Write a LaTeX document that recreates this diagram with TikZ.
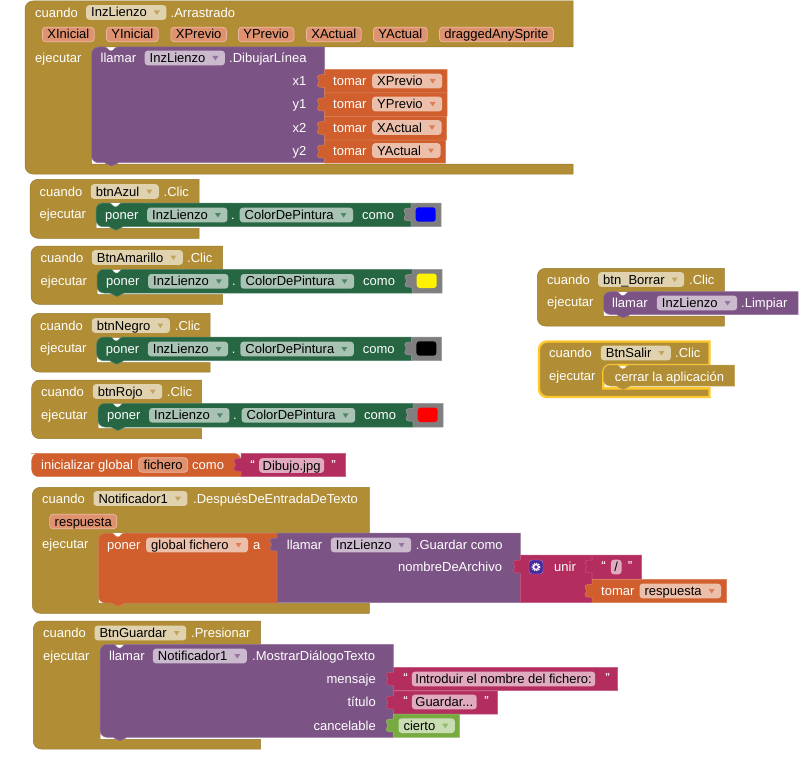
\documentclass[tikz,border=0pt]{standalone}
\usepackage{fontspec}
\setmainfont{Liberation Sans}
\definecolor{ctrl}{HTML}{B18E35}
\definecolor{meth}{HTML}{7C5385}
\definecolor{setr}{HTML}{266643}
\definecolor{vari}{HTML}{D05F2D}
\definecolor{txtb}{HTML}{B32D5E}
\definecolor{logi}{HTML}{77AB41}
\definecolor{gris}{HTML}{7F7F7F}
\definecolor{salir}{HTML}{FFC72E}
\definecolor{mutr}{HTML}{4B2A9E}
\tikzset{
  every node/.style={font=\fontsize{13}{15}\selectfont, text height=11pt, text depth=2pt},
  lbl/.style={anchor=west, inner sep=0pt, text=white},
  rlbl/.style={anchor=east, inner sep=0pt, text=white},
  dd/.style={anchor=west, fill=#1!40!white, text=black, rounded corners=3pt, inner xsep=5pt, inner ysep=.8pt,
    execute at end node={\hspace{14.5pt}},
    path picture={\fill[#1!80!white, sharp corners] ([xshift=-12.5pt,yshift=2pt]path picture bounding box.east) -- ++(6pt,0) -- ++(-3pt,-4.5pt) -- cycle;}},
  pill/.style={anchor=west, fill=vari!68!white, draw=vari!45!white, line width=.8pt, text=black, rounded corners=3.5pt, inner xsep=5pt, inner ysep=.8pt},
  txtf/.style={anchor=west, fill=txtb!40!white, text=black, rounded corners=3pt, inner xsep=3.5pt, inner ysep=.8pt},
  qt/.style={anchor=west, inner sep=0pt, text=white, font=\fontsize{10}{10}\selectfont\bfseries, text height=5pt, text depth=0pt},
  swatch/.style={inner sep=0pt, rounded corners=3pt, minimum width=20pt, minimum height=14.4pt}
}
% x0 y0 x1 yhead xin ybar ybottom
\newcommand{\evtblk}[8][]{
  \path[fill=ctrl, draw=ctrl!85!black, line width=.5pt, #1] (#4,#8) [rounded corners=8pt] -- (#2,#8) -- (#2,#3)
    [sharp corners] -- (#4,#3) -- (#4,#5) -- (#6+14,#5) [rounded corners=7pt] -- (#6,#5) [sharp corners] -- (#6,#7) -- (#4,#7) -- cycle;
}
% colour x0 y0 x1 y1
\newcommand{\stmtblk}[5]{
  \path[fill=#1, draw=#1!80!white, line width=.5pt] (#2+13,#3) .. controls (#2+16,#3) and (#2+16.5,#3+4) .. (#2+19.5,#3+4) .. controls (#2+22.5,#3+4) and (#2+23,#3) .. (#2+26,#3) -- (#4,#3) -- (#4,#5)
    -- (#2+27,#5) .. controls (#2+24,#5) and (#2+23.5,#5+3.5) .. (#2+20,#5+3.5) .. controls (#2+16.5,#5+3.5) and (#2+16,#5) .. (#2+13,#5) -- (#2+8,#5) [rounded corners=7pt] -- (#2,#5) -- (#2,#3) -- (#2+13,#3);
}
% colour x0 y0 x1 y1
\newcommand{\valblk}[5]{
  \path[fill=#1, draw=#1!80!white, line width=.5pt] (#2,#3) -- (#4,#3) -- (#4,#5) -- (#2,#5) -- (#2,#3+18)
    .. controls (#2-3,#3+18) and (#2-7,#3+18) .. (#2-7,#3+15.5) -- (#2-5.5,#3+11.5) -- (#2-7,#3+7.5) .. controls (#2-7,#3+5) and (#2-3,#3+5) .. (#2,#3+5) -- cycle;
}
% name xin ytop colour
\newcommand{\colorrow}[4]{
  \stmtblk{setr}{#2}{#3}{#2+315}{#3+23.7}
  \valblk{gris}{#2+315}{#3}{#2+345}{#3+23.7}
  \node[lbl] (#1poner) at (#2+9,#3+12) {poner};
  \node[dd=setr] (#1lienzo) at (#2+51,#3+12) {InzLienzo};
  \node[lbl] (#1punto) at (#2+135,#3+12) {.};
  \node[dd=setr] (#1prop) at (#2+143.5,#3+12) {ColorDePintura};
  \node[lbl] (#1como) at (#2+266,#3+12) {como};
  \node[swatch, fill=#4] (#1color) at (#2+329.7,#3+11.5) {};
}
\begin{document}
\begin{tikzpicture}[x=1pt, y=-1pt]
\useasboundingbox (0,0) rectangle (805,757);
% Arrastrado
\evtblk{25}{1}{573}{47}{91.5}{164}{174}
\node[lbl] (cuandoA) at (35,13) {cuando};
\node[dd=ctrl] (lienzoA) at (86,12.5) {InzLienzo};
\node[lbl] (arrastrado) at (170.5,13) {.Arrastrado};
\node[pill] (xini) at (42,34.5) {XInicial};
\node[pill] (yini) at (106,34.5) {YInicial};
\node[pill] (xprev) at (170.5,34.5) {XPrevio};
\node[pill] (yprev) at (238,34.5) {YPrevio};
\node[pill] (xact) at (306,34.5) {XActual};
\node[pill] (yact) at (373,34.5) {YActual};
\node[pill] (dragged) at (439,34.5) {draggedAnySprite};
\node[lbl] (ejecA) at (35,58) {ejecutar};
\stmtblk{meth}{91.5}{47}{324.5}{162.7}
\node[lbl] (llamarA) at (100.5,58) {llamar};
\node[dd=meth] (lienzoB) at (144.5,58) {InzLienzo};
\node[lbl] (dibujar) at (229,58) {.DibujarLínea};
\node[rlbl] (x1) at (306.5,81) {x1};
\node[rlbl] (y1) at (306.5,104) {y1};
\node[rlbl] (x2) at (306.5,127.5) {x2};
\node[rlbl] (y2) at (306.5,150.5) {y2};
\valblk{vari}{324.5}{69.5}{447}{93}
\node[lbl] (tomarA) at (333,81) {tomar};
\node[dd=vari] (getxp) at (372,81) {XPrevio};
\valblk{vari}{324.5}{93}{447}{116.5}
\node[lbl] (tomarB) at (333,104) {tomar};
\node[dd=vari] (getyp) at (372,104) {YPrevio};
\valblk{vari}{324.5}{116.5}{446.5}{140}
\node[lbl] (tomarC) at (333,127.5) {tomar};
\node[dd=vari] (getxa) at (372,127.5) {XActual};
\valblk{vari}{324.5}{140}{445.5}{163}
\node[lbl] (tomarD) at (333,150.5) {tomar};
\node[dd=vari] (getya) at (372,150.5) {YActual};
% botones de color
\evtblk{30}{179.3}{199}{202.7}{96}{228.3}{238.3}
\node[lbl] (cuandoB) at (39.5,191.5) {cuando};
\node[dd=ctrl] (btnazul) at (90.7,191.5) {btnAzul};
\node[lbl] (clicB) at (163.5,191.5) {.Clic};
\node[lbl] (ejecB) at (39.5,214) {ejecutar};
\colorrow{azul}{96}{203}{blue}
\evtblk{31}{246}{222.7}{269.3}{97}{294.7}{304.3}
\node[lbl] (cuandoC) at (40.5,257.5) {cuando};
\node[dd=ctrl] (btnamar) at (91.7,257.5) {BtnAmarillo};
\node[lbl] (clicC) at (187,257.5) {.Clic};
\node[lbl] (ejecC) at (40.5,280.5) {ejecutar};
\colorrow{amar}{97}{269.3}{yellow}
\evtblk{31}{313.3}{210}{337.3}{96.7}{362.5}{372}
\node[lbl] (cuandoD) at (40,325.5) {cuando};
\node[dd=ctrl] (btnnegro) at (91.7,325.5) {btnNegro};
\node[lbl] (clicD) at (174.7,325.5) {.Clic};
\node[lbl] (ejecD) at (40,347.5) {ejecutar};
\colorrow{negro}{96.7}{337}{black}
\evtblk{31.7}{380}{201.7}{403.3}{98}{428.5}{438.7}
\node[lbl] (cuandoE) at (41,391.5) {cuando};
\node[dd=ctrl] (btnrojo) at (92.7,391.5) {btnRojo};
\node[lbl] (clicE) at (166.7,391.5) {.Clic};
\node[lbl] (ejecE) at (41,414.5) {ejecutar};
\colorrow{rojo}{98}{403.3}{red}
% Borrar
\evtblk{537.3}{268.3}{724.3}{291.7}{603.3}{316}{326}
\node[lbl] (cuandoF) at (547,279.5) {cuando};
\node[dd=ctrl] (btnborrar) at (598,279.5) {btn\_Borrar};
\node[lbl] (clicF) at (689,279.5) {.Clic};
\node[lbl] (ejecF) at (547,302) {ejecutar};
\stmtblk{meth}{603.3}{291.7}{798}{314.5}
\node[lbl] (llamarB) at (612,303) {llamar};
\node[dd=meth] (lienzoC) at (656.7,303) {InzLienzo};
\node[lbl] (limpiar) at (741,303) {.Limpiar};
% Salir
\evtblk[draw=salir, line width=2.4pt]{539}{341.5}{709.5}{365}{603.3}{388.3}{397}
\node[lbl] (cuandoG) at (549,353) {cuando};
\node[dd=ctrl] (btnsalir) at (600.7,353) {BtnSalir};
\node[lbl] (clicG) at (675,353) {.Clic};
\node[lbl] (ejecG) at (549,376) {ejecutar};
\stmtblk{ctrl}{603.3}{365}{734.7}{386}
\node[lbl] (cerrar) at (614.7,377) {cerrar la aplicación};
% global
\path[fill=vari, draw=vari!80!white, line width=.5pt] (241,453.3) -- (241,476.7) -- (38,476.7) [rounded corners=7pt] -- (31.7,476.7) -- (31.7,453.3) -- (38,453.3) -- cycle;
\node[lbl] (inicial) at (41,465) {inicializar global};
\node[pill] (fichero) at (138.3,465) {fichero};
\node[lbl] (comoA) at (192,465) {como};
\valblk{txtb}{241}{453.3}{345.7}{476.7}
\node[qt] (qa) at (250,464.5) {“};
\node[txtf] (dibujo) at (259,465.5) {Dibujo.jpg};
\node[qt] (qb) at (331,464.5) {”};
% Notificador
\evtblk{32.3}{487.3}{369.3}{532.7}{98.3}{603.3}{613.3}
\node[lbl] (cuandoH) at (42,499) {cuando};
\node[dd=ctrl] (notifA) at (93.3,498.5) {Notificador1};
\node[lbl] (despues) at (193,499) {.DespuésDeEntradaDeTexto};
\node[pill] (resp) at (49.3,521.5) {respuesta};
\node[lbl] (ejecH) at (42,544) {ejecutar};
\stmtblk{vari}{98.3}{533}{277}{603}
\node[lbl] (ponerG) at (107,545) {poner};
\node[dd=vari] (globalf) at (146,545) {global fichero};
\node[lbl] (aa) at (253,545) {a};
\valblk{meth}{277}{533}{520.3}{602.7}
\node[lbl] (llamarC) at (286.7,545) {llamar};
\node[dd=meth] (lienzoD) at (330.7,545) {InzLienzo};
\node[lbl] (guardar) at (415.7,545) {.Guardar como};
\node[rlbl] (nombre) at (502.3,567) {nombreDeArchivo};
\valblk{txtb}{520.3}{555}{592}{602.5}
\node[swatch, fill=mutr, draw=mutr!55!white, minimum width=14pt, minimum height=14pt] (mutador) at (536,567) {};
\draw[white, line width=1.6pt, dash pattern=on 1.1pt off 1pt] (mutador.center) circle (3.6pt);
\draw[white, line width=1.2pt] (mutador.center) circle (2.4pt);
\node[lbl] (unir) at (554,567) {unir};
\valblk{txtb}{592}{555}{641.7}{579}
\node[qt] (qc) at (601,566) {“};
\node[txtf] (barra) at (610.7,567) {/};
\node[qt] (qd) at (627.3,566) {”};
\valblk{vari}{592}{579.3}{726.7}{602.7}
\node[lbl] (tomarE) at (601,591) {tomar};
\node[dd=vari] (getresp) at (639.3,591) {respuesta};
% Guardar
\evtblk{33.3}{621}{260.7}{644.3}{100}{739.3}{749}
\node[lbl] (cuandoI) at (43,633) {cuando};
\node[dd=ctrl] (btnguardar) at (94.3,633) {BtnGuardar};
\node[lbl] (presionar) at (191,633) {.Presionar};
\node[lbl] (ejecI) at (43,655.5) {ejecutar};
\stmtblk{meth}{100}{644.3}{393.3}{737.3}
\node[lbl] (llamarD) at (109,655.7) {llamar};
\node[dd=meth] (notifB) at (152.7,656) {Notificador1};
\node[lbl] (mostrar) at (252,655.7) {.MostrarDiálogoTexto};
\node[rlbl] (mensaje) at (376,679) {mensaje};
\node[rlbl] (titulo) at (376,701.7) {título};
\node[rlbl] (cancel) at (376,725.7) {cancelable};
\valblk{txtb}{393.3}{667.3}{617.7}{690.7}
\node[qt] (qe) at (403,678) {“};
\node[txtf] (intro) at (411.7,679) {Introduir el nombre del fichero:};
\node[qt] (qf) at (605,678) {”};
\valblk{txtb}{393.3}{691}{497.7}{714}
\node[qt] (qg) at (403,701) {“};
\node[txtf] (guard) at (411.7,702) {Guardar...};
\node[qt] (qh) at (484,701) {”};
\valblk{logi}{393.3}{714}{459.7}{737.3}
\node[dd=logi] (cierto) at (398.3,725.7) {cierto};
\end{tikzpicture}
\end{document}
